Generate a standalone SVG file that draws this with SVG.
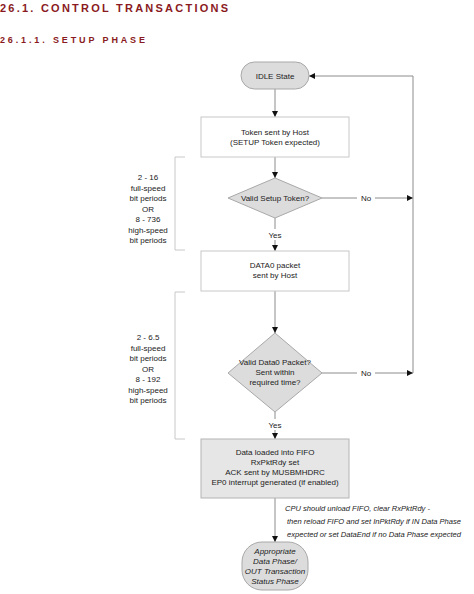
<svg xmlns="http://www.w3.org/2000/svg" width="474" height="594" viewBox="0 0 474 594">
<defs>
<marker id="ah" viewBox="0 0 10 10" refX="10" refY="5" markerWidth="6" markerHeight="6" orient="auto" markerUnits="userSpaceOnUse">
<path d="M0,0 L10,5 L0,10 z" fill="#111"/>
</marker>
<style>
.t{font-family:"Liberation Sans",Arial,sans-serif;font-size:8px;fill:#222;text-anchor:middle}
.it{font-style:italic}
.h{font-family:"Liberation Sans",Arial,sans-serif;font-weight:bold;fill:#8a1a22}
.c{fill:none;stroke:#8c8c8c;stroke-width:1}
.box{fill:#fff;stroke:#c8c8c8;stroke-width:1}
.gbox{fill:#e6e6e6;stroke:#b4b4b4;stroke-width:1}
.br{fill:none;stroke:#c8c8c8;stroke-width:1}
.lbl{fill:#fff}
</style>
</defs>
<rect width="474" height="594" fill="#fff"/>
<text class="h" x="0" y="12" font-size="11" textLength="228" lengthAdjust="spacing">26.1. CONTROL TRANSACTIONS</text>
<text class="h" x="0" y="43" font-size="9" textLength="145" lengthAdjust="spacing">26.1.1. SETUP PHASE</text>

<g id="connectors">
<line class="c" x1="275" y1="89" x2="275" y2="117" marker-end="url(#ah)"/>
<line class="c" x1="275" y1="157" x2="275" y2="178" marker-end="url(#ah)"/>
<line class="c" x1="275" y1="218" x2="275" y2="251" marker-end="url(#ah)"/>
<line class="c" x1="275" y1="291" x2="275" y2="333" marker-end="url(#ah)"/>
<line class="c" x1="275" y1="412" x2="275" y2="439" marker-end="url(#ah)"/>
<line class="c" x1="275" y1="498" x2="275" y2="542" marker-end="url(#ah)"/>
<line class="c" x1="322" y1="198" x2="413" y2="198" marker-end="url(#ah)"/>
<line class="c" x1="322" y1="373" x2="413" y2="373" marker-end="url(#ah)"/>
<polyline class="c" points="413,373 413,76 309,76" marker-end="url(#ah)"/>
<rect class="lbl" x="264" y="229" width="22" height="11"/>
<text class="t" x="275" y="238">Yes</text>
<rect class="lbl" x="264" y="419" width="22" height="11"/>
<text class="t" x="275" y="428">Yes</text>
<rect class="lbl" x="357" y="192" width="18" height="11"/>
<text class="t" x="366" y="201">No</text>
<rect class="lbl" x="357" y="367" width="18" height="11"/>
<text class="t" x="366" y="376">No</text>
<g class="t it" style="text-anchor:start;font-size:7.5px">
<text x="285" y="511" textLength="145" lengthAdjust="spacingAndGlyphs">CPU should unload FIFO, clear RxPktRdy  -</text>
<text x="287" y="524" textLength="174" lengthAdjust="spacingAndGlyphs">then reload FIFO and set InPktRdy if IN Data Phase</text>
<text x="287" y="537" textLength="174" lengthAdjust="spacingAndGlyphs">expected or set DataEnd if no Data Phase expected</text>
</g>
</g>

<g id="idle">
<rect x="241" y="62" width="68" height="27" rx="13.5" fill="#dcdcdc" stroke="#a8a8a8"/>
<text class="t" x="275" y="78.5">IDLE State</text>
</g>
<g id="token">
<rect class="box" x="201" y="117" width="148" height="40"/>
<text class="t" x="275" y="135">Token sent by Host</text>
<text class="t" x="275" y="145">(SETUP Token expected)</text>
</g>
<g id="validSetup">
<polygon points="275,178 322,198 275,218 228,198" fill="#dcdcdc" stroke="#a8a8a8"/>
<text class="t" x="275" y="201">Valid Setup Token?</text>
</g>
<g id="data0">
<rect class="box" x="201" y="251" width="148" height="40"/>
<text class="t" x="275" y="268">DATA0 packet</text>
<text class="t" x="275" y="278">sent by Host</text>
</g>
<g id="validData0">
<polygon points="275,333 322,373 275,412 228,373" fill="#dcdcdc" stroke="#a8a8a8"/>
<text class="t" x="275" y="365">Valid Data0 Packet?</text>
<text class="t" x="275" y="375">Sent within</text>
<text class="t" x="275" y="385">required time?</text>
</g>
<g id="loaded">
<rect class="gbox" x="201" y="439" width="148" height="59"/>
<text class="t" x="275" y="455">Data loaded into FIFO</text>
<text class="t" x="275" y="465">RxPktRdy set</text>
<text class="t" x="275" y="475">ACK sent by MUSBMHDRC</text>
<text class="t" x="275" y="485">EP0 interrupt generated (if enabled)</text>
</g>
<g id="nextPhase">
<rect x="242" y="542" width="66" height="48" rx="20" fill="#dcdcdc" stroke="#a8a8a8"/>
<text class="t it" x="275" y="554">Appropriate</text>
<text class="t it" x="275" y="564">Data Phase/</text>
<text class="t it" x="275" y="574">OUT Transaction</text>
<text class="t it" x="275" y="584">Status Phase</text>
</g>
<g id="timing1">
<polyline class="br" points="185,157 175,157 175,250 185,250"/>
<text class="t" x="148" y="180">2 - 16</text>
<text class="t" x="148" y="190.5">full-speed</text>
<text class="t" x="148" y="201">bit periods</text>
<text class="t" x="148" y="211.5">OR</text>
<text class="t" x="148" y="222">8 - 736</text>
<text class="t" x="148" y="232.5">high-speed</text>
<text class="t" x="148" y="243">bit periods</text>
</g>
<g id="timing2">
<polyline class="br" points="185,292 175,292 175,439 185,439"/>
<text class="t" x="148" y="340">2 - 6.5</text>
<text class="t" x="148" y="350.5">full-speed</text>
<text class="t" x="148" y="361">bit periods</text>
<text class="t" x="148" y="371.5">OR</text>
<text class="t" x="148" y="382">8 - 192</text>
<text class="t" x="148" y="392.5">high-speed</text>
<text class="t" x="148" y="403">bit periods</text>
</g>
</svg>
